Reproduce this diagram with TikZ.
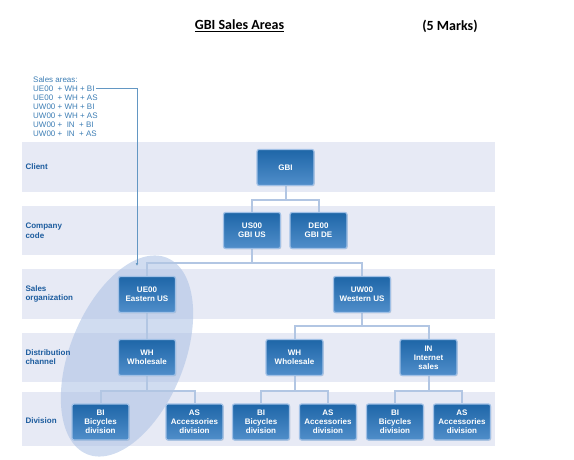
\documentclass[tikz,border=0pt]{standalone}
\usepackage{fontspec}
\setmainfont{Liberation Sans}
\newfontfamily\titlefont{Carlito}
\usetikzlibrary{arrows.meta}
\usetikzlibrary{shadows}

\definecolor{bandbg}{RGB}{231,234,245}
\definecolor{linkblue}{RGB}{178,198,227}
\definecolor{boxtop}{RGB}{30,102,168}
\definecolor{boxbot}{RGB}{80,142,202}
\definecolor{boxrim}{RGB}{160,192,230}
\definecolor{lvltext}{RGB}{28,92,158}
\definecolor{areatext}{RGB}{60,125,180}
\definecolor{ovalfill}{RGB}{170,192,228}

\pgfdeclarelayer{background}
\pgfsetlayers{background,main}

\tikzset{
  unit/.style={rectangle, rounded corners=2pt, draw=boxrim, line width=1.2pt,
    top color=boxtop, bottom color=boxbot, minimum width=57pt, minimum height=36pt,
    inner sep=1pt, align=center, text=white, font=\fontsize{8}{9}\selectfont\bfseries,
    drop shadow={opacity=0.2, shadow xshift=0.8pt, shadow yshift=-0.8pt}},
  link/.style={draw=linkblue, line width=2pt},
  lvl/.style={anchor=west, align=left, text=lvltext, font=\fontsize{8}{9.5}\selectfont\bfseries},
  area/.style={anchor=west, inner sep=1pt, text=areatext, font=\fontsize{8}{9}\selectfont},
  pointer/.style={draw=areatext!80, line width=0.7pt, -{Latex[length=3pt,width=3pt]}},
}

\begin{document}
\begin{tikzpicture}[x=1pt, y=-1pt]
  \useasboundingbox (0,0) rectangle (574,460);

  % heading
  \node[font=\titlefont\fontsize{14}{16}\selectfont\bfseries] (title) at (239.5,26) {\underline{GBI Sales Areas}};
  \node[font=\titlefont\fontsize{14}{16}\selectfont\bfseries] (marks) at (450,26) {(5 Marks)};

  % level names
  \foreach \y/\txt [count=\i] in {167/Client, 230.5/{Company\\code}, 294/{Sales\\organization}, 357/{Distribution\\channel}, 421/Division} {
    \node[lvl] (level\i) at (22,\y) {\txt};
  }

  % list of sales areas
  \foreach \txt [count=\i] in {Sales areas:, {UE00\ \ + WH + BI}, {UE00\ \ + WH + AS}, {UW00 + WH + BI}, {UW00 + WH + AS}, {UW00 +\ \ IN\ \ + BI}, {UW00 +\ \ IN\ \ + AS}} {
    \node[area] (area\i) at (32,{79.5+9.1*(\i-1)}) {\txt};
  }
  \coordinate (ovaltop) at (137,266);
  \draw[pointer] (area2.east) -| (ovaltop);

  % org units
  \node[unit] (gbi) at (285.5,167.5) {GBI};
  \node[unit] (us00) at (252,230.5) {US00\\GBI US};
  \node[unit] (de00) at (318.5,230.5) {DE00\\GBI DE};
  \node[unit] (ue00) at (147,294.5) {UE00\\Eastern US};
  \node[unit] (uw00) at (362,294.5) {UW00\\Western US};
  \node[unit] (whe) at (147,357.5) {WH\\Wholesale};
  \node[unit] (whw) at (294.5,357.5) {WH\\Wholesale};
  \node[unit] (inw) at (428.5,357.5) {IN\\Internet\\sales};
  \node[unit] (bie) at (100.5,422) {BI\\Bicycles\\division};
  \node[unit] (ase) at (194.5,422) {AS\\Accessories\\division};
  \node[unit] (biw) at (261,422) {BI\\Bicycles\\division};
  \node[unit] (asw) at (328,422) {AS\\Accessories\\division};
  \node[unit] (bii) at (395,422) {BI\\Bicycles\\division};
  \node[unit] (asi) at (462,422) {AS\\Accessories\\division};

  \begin{pgfonlayer}{background}
    % bands
    \foreach \top/\bot in {142/192, 206/255, 269/319, 333/382, 392/446}
      \fill[bandbg] (22,\top) rectangle (495,\bot);
    % highlighted sales area
    \fill[ovalfill, opacity=0.55] (127,356) circle [x radius=106pt, y radius=57pt, rotate=67.9];
    % tree
    \draw[link] (gbi.south) -- ++(0,13.5) -| (us00.north);
    \draw[link] (gbi.south) -- ++(0,13.5) -| (de00.north);
    \draw[link] (us00.south) -- ++(0,13.5) -| (ue00.north);
    \draw[link] (us00.south) -- ++(0,13.5) -| (uw00.north);
    \draw[link] (ue00) -- (whe);
    \draw[link] (uw00.south) -- ++(0,12.5) -| (whw.north);
    \draw[link] (uw00.south) -- ++(0,12.5) -| (inw.north);
    \foreach \dc/\bi/\as in {whe/bie/ase, whw/biw/asw, inw/bii/asi} {
      \draw[link] (\dc.south) -- ++(0,14.5) -| (\bi.north);
      \draw[link] (\dc.south) -- ++(0,14.5) -| (\as.north);
    }
  \end{pgfonlayer}
\end{tikzpicture}
\end{document}
